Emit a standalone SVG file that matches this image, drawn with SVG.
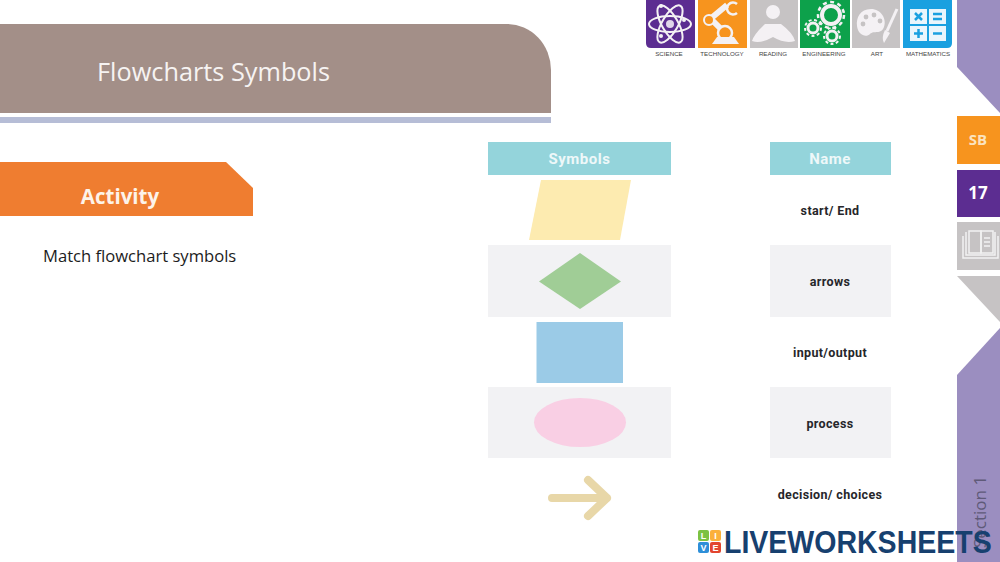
<svg xmlns="http://www.w3.org/2000/svg" width="1000" height="562" viewBox="0 0 1000 562">
<style>
.t{font-family:"Open Sans","Liberation Sans",sans-serif}
.r{font-family:Roboto,"Liberation Sans",sans-serif;font-weight:700;text-anchor:middle}
.n{font-size:12.5px;fill:#26262a;letter-spacing:.35px}
.h{font-size:15px;fill:#eef8f9;letter-spacing:.5px}
.c{font-family:"Liberation Sans",sans-serif;font-size:6.2px;fill:#444;text-anchor:middle}
.w{fill:none;stroke:#f4f1f4}
.bg{fill:#f2f2f4}
.hd{fill:#94d4db}
</style>
<rect width="1000" height="562" fill="#fff"/>
<g id="side-band">
<path d="M957 0H1000V113L957 67Z" fill="#9b8ec0"/>
<path d="M957 276H1000V322Z" fill="#c6c3c4"/>
<path d="M957 375L1000 328V562H957Z" fill="#9b8ec0"/>
<text transform="translate(986 548) rotate(-90)" class="t" font-size="17" fill="#5f5a78">Section 1</text>
</g>
<g id="tab-sb"><rect x="957" y="116" width="43" height="48" fill="#f7941e"/><text x="978" y="145" class="t" font-size="15" font-weight="700" fill="#fbe3c0" text-anchor="middle">SB</text></g>
<g id="tab-17"><rect x="957" y="170" width="43" height="47" fill="#5c2d91"/><text x="978" y="199" class="t" font-size="17" font-weight="700" fill="#fff" text-anchor="middle">17</text></g>
<g id="tab-book"><rect x="957" y="222" width="43" height="48" fill="#c6c3c4"/>
<path d="M966 232V255H995V232" fill="none" stroke="#f2f2f2" stroke-width="1.500"/><path d="M963 236V258H998V236" fill="none" stroke="#f2f2f2" stroke-width="1.500"/>
<rect x="969" y="231" width="12" height="22" fill="none" stroke="#f2f2f2" stroke-width="1.500"/><rect x="981" y="231" width="12" height="22" fill="none" stroke="#f2f2f2" stroke-width="1.500"/>
<path d="M984 238h6M984 242h6M984 246h6" stroke="#f2f2f2" stroke-width="1.500"/></g>

<g id="title-banner">
<path d="M0 24H507A44 46 0 0 1 551 70V113H0Z" fill="#a38f88"/>
<rect y="117" width="551" height="6" fill="#b6bdd6"/>
<text x="97" y="81" class="t" font-size="25.300" fill="#f6f3f2">Flowcharts Symbols</text>
</g>
<g id="activity">
<path d="M0 162H226L253 188V216H0Z" fill="#ef7d30"/>
<text x="120" y="204" class="t" font-size="20.500" font-weight="700" fill="#fdf3ea" text-anchor="middle">Activity</text>
</g>
<text id="instruction" x="43" y="262" class="t" font-size="16.600" fill="#1c1c1c">Match flowchart symbols</text>

<g id="stem-logos">
<g id="logo-science"><path d="M646 0H695V48H651Q646 48 646 43Z" fill="#5c2d91"/>
<g class="w" stroke-width="2"><ellipse cx="670" cy="24" rx="21" ry="8"/><ellipse cx="670" cy="24" rx="21" ry="8" transform="rotate(60 670 24)"/><ellipse cx="670" cy="24" rx="21" ry="8" transform="rotate(-60 670 24)"/></g><circle cx="670" cy="24" r="4" fill="#e0d6ea"/><circle cx="661" cy="6" r="2" fill="#f4f1f4"/><circle cx="661" cy="36" r="2" fill="#f4f1f4"/><circle cx="684" cy="20" r="2" fill="#f4f1f4"/>
<text x="669" y="56" class="c">SCIENCE</text></g>
<g id="logo-technology"><rect x="698" y="0" width="49" height="48" fill="#f7941e"/>
<path d="M709 20L727 5M712 20L726 34" fill="none" stroke="#f4f1f4" stroke-width="6"/><path d="M737 4A6 6 0 1 0 737 13" fill="none" stroke="#f4f1f4" stroke-width="2.500"/><circle cx="709" cy="20" r="5" fill="#f7941e" stroke="#f4f1f4" stroke-width="2"/><circle cx="725" cy="33" r="7" fill="#f7941e" stroke="#f4f1f4" stroke-width="2.500"/><path d="M712 44L717 37H734L739 44Z" fill="#f4f1f4"/>
<text x="722" y="56" class="c">TECHNOLOGY</text></g>
<g id="logo-reading"><rect x="750" y="0" width="48" height="48" fill="#c6c3c4"/>
<circle cx="773" cy="12" r="7" fill="#f4f1f4"/><path d="M752 41Q754 34 765 24H781Q793 33 795 41Q785 44 773 37Q761 44 752 41Z" fill="#f4f1f4"/>
<text x="773" y="56" class="c">READING</text></g>
<g id="logo-engineering"><rect x="800" y="0" width="50" height="48" fill="#0da14b"/>
<g fill="none" stroke="#f4f1f4"><circle cx="831" cy="15" r="9" stroke-width="4"/><circle cx="831" cy="15" r="13" stroke-width="2.500" stroke-dasharray="4 3.500"/><circle cx="813" cy="28" r="5" stroke-width="3"/><circle cx="813" cy="28" r="8" stroke-width="2" stroke-dasharray="3 2.500"/><circle cx="832" cy="36" r="5" stroke-width="3"/><circle cx="832" cy="36" r="8" stroke-width="2" stroke-dasharray="3 2.500"/></g>
<text x="824" y="56" class="c">ENGINEERING</text></g>
<g id="logo-art"><rect x="852" y="0" width="48" height="48" fill="#c6c3c4"/>
<path d="M871 9C860 9 856 18 857 26C858 35 866 38 870 34C874 30 881 35 884 27C887 19 881 9 871 9Z" fill="#f4f1f4"/><circle cx="866" cy="17" r="2.400" fill="#c6c3c4"/><circle cx="874" cy="15" r="2.400" fill="#c6c3c4"/><circle cx="880" cy="21" r="2.400" fill="#c6c3c4"/><circle cx="863" cy="24" r="2.400" fill="#c6c3c4"/>
<path d="M897 9L887 31" stroke="#f4f1f4" stroke-width="3"/><path d="M885 30L890 33L884 43Q881 38 885 30Z" fill="#f4f1f4"/>
<text x="877" y="56" class="c">ART</text></g>
<g id="logo-math"><path d="M903 0H952V43Q952 48 947 48H903Z" fill="#1aa0e0"/>
<g fill="#e9f5fc"><rect x="910" y="9" width="17" height="15"/><rect x="929" y="9" width="17" height="15"/><rect x="910" y="26" width="17" height="15"/><rect x="929" y="26" width="17" height="15"/></g>
<g stroke="#1aa0e0" stroke-width="2.500" fill="none"><path d="M915 13L922 20M922 13L915 20M933 14H942M933 19H942M914 33.500H923M918.500 29V38M933 33.500H942"/></g>
<text x="928" y="56" class="c">MATHEMATICS</text></g>
</g>

<g id="table">
<g id="header-symbols"><rect class="hd" x="488" y="142" width="183" height="33"/><text class="r h" x="579.500" y="164">Symbols</text></g>
<g id="header-name"><rect class="hd" x="770" y="142" width="121" height="33"/><text class="r h" x="830" y="164">Name</text></g>
<rect class="bg" x="488" y="245" width="183" height="72"/>
<rect class="bg" x="770" y="245" width="121" height="72"/>
<rect class="bg" x="488" y="387" width="183" height="71"/>
<rect class="bg" x="770" y="387" width="121" height="71"/>
<path id="sym-parallelogram" d="M541 180H631L620 240H529Z" fill="#fdebb0"/>
<path id="sym-diamond" d="M580 253L621 281.500L580 309L539 281.500Z" fill="#a0cd96"/>
<rect id="sym-rect" x="536.500" y="322" width="86.500" height="61" fill="#9bcbe7"/>
<ellipse id="sym-ellipse" cx="580" cy="422.500" rx="46" ry="24.500" fill="#f9cfe4"/>
<g id="sym-arrow" fill="none" stroke="#e8d7a8" stroke-width="8" stroke-linecap="round" stroke-linejoin="round"><path d="M552 498H607M588 480L607 498L588 516"/></g>
<g id="labels">
<text class="r n" x="830" y="215">start/ End</text>
<text class="r n" x="830" y="286">arrows</text>
<text class="r n" x="830" y="357">input/output</text>
<text class="r n" x="830" y="428">process</text>
<text class="r n" x="830" y="499">decision/ choices</text>
</g>
</g>

<g id="liveworksheets">
<rect x="698" y="530" width="11" height="11" rx="2" fill="#7cc242"/><rect x="710" y="530" width="11" height="11" rx="2" fill="#fbb03b"/><rect x="698" y="542" width="11" height="11" rx="2" fill="#2e8fd8"/><rect x="710" y="542" width="11" height="11" rx="2" fill="#e2452f"/>
<g font-family="Liberation Sans,sans-serif" font-size="9" font-weight="700" fill="#fff" text-anchor="middle"><text x="703.500" y="539">L</text><text x="715.500" y="539">I</text><text x="703.500" y="551">V</text><text x="715.500" y="551">E</text></g>
<text transform="translate(724 553) scale(.935 1)" font-family="Liberation Sans,sans-serif" font-size="30.500" font-weight="700" fill="#17406f">LIVEWORKSHEETS</text>
</g>
</svg>
